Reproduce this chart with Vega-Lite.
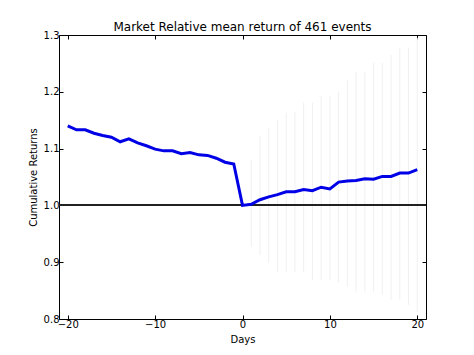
{
  "$schema": "https://vega.github.io/schema/vega-lite/v6.json",
  "width": 367,
  "height": 284,
  "autosize": "none",
  "padding": {"left": 59, "top": 35, "right": 48, "bottom": 36},
  "title": {"text": "Market Relative mean return of 461 events", "font": "DejaVu Sans", "fontSize": 12, "fontWeight": "normal", "color": "black", "offset": -4},
  "config": {
    "view": {"stroke": "black", "strokeWidth": 1},
    "axis": {"domain": false, "grid": false, "tickColor": "black", "tickSize": -4, "labelFont": "DejaVu Sans", "labelFontSize": 10, "labelColor": "black", "titleFont": "DejaVu Sans", "titleFontSize": 10, "titleFontWeight": "normal", "titleColor": "black", "labelPadding": 4}
  },
  "data": {"values": [
    {"day": -20, "ret": 1.140},
    {"day": -19, "ret": 1.133},
    {"day": -18, "ret": 1.133},
    {"day": -17, "ret": 1.127},
    {"day": -16, "ret": 1.123},
    {"day": -15, "ret": 1.120},
    {"day": -14, "ret": 1.112},
    {"day": -13, "ret": 1.117},
    {"day": -12, "ret": 1.110},
    {"day": -11, "ret": 1.105},
    {"day": -10, "ret": 1.099},
    {"day": -9, "ret": 1.096},
    {"day": -8, "ret": 1.096},
    {"day": -7, "ret": 1.091},
    {"day": -6, "ret": 1.093},
    {"day": -5, "ret": 1.089},
    {"day": -4, "ret": 1.088},
    {"day": -3, "ret": 1.083},
    {"day": -2, "ret": 1.076},
    {"day": -1, "ret": 1.073},
    {"day": 0, "ret": 1.000},
    {"day": 1, "ret": 1.002, "lo": 0.927, "hi": 1.080},
    {"day": 2, "ret": 1.010, "lo": 0.913, "hi": 1.123},
    {"day": 3, "ret": 1.015, "lo": 0.899, "hi": 1.137},
    {"day": 4, "ret": 1.019, "lo": 0.883, "hi": 1.151},
    {"day": 5, "ret": 1.024, "lo": 0.883, "hi": 1.163},
    {"day": 6, "ret": 1.024, "lo": 0.883, "hi": 1.165},
    {"day": 7, "ret": 1.028, "lo": 0.883, "hi": 1.181},
    {"day": 8, "ret": 1.026, "lo": 0.869, "hi": 1.181},
    {"day": 9, "ret": 1.032, "lo": 0.869, "hi": 1.193},
    {"day": 10, "ret": 1.029, "lo": 0.869, "hi": 1.193},
    {"day": 11, "ret": 1.041, "lo": 0.864, "hi": 1.200},
    {"day": 12, "ret": 1.043, "lo": 0.857, "hi": 1.221},
    {"day": 13, "ret": 1.044, "lo": 0.848, "hi": 1.235},
    {"day": 14, "ret": 1.047, "lo": 0.848, "hi": 1.235},
    {"day": 15, "ret": 1.046, "lo": 0.848, "hi": 1.251},
    {"day": 16, "ret": 1.051, "lo": 0.843, "hi": 1.251},
    {"day": 17, "ret": 1.051, "lo": 0.834, "hi": 1.265},
    {"day": 18, "ret": 1.057, "lo": 0.834, "hi": 1.278},
    {"day": 19, "ret": 1.057, "lo": 0.825, "hi": 1.278},
    {"day": 20, "ret": 1.063, "lo": 0.813, "hi": 1.295}
  ]},
  "layer": [
    {
      "transform": [{"filter": "isValid(datum.lo)"}],
      "mark": {"type": "rule", "color": "#f0f0f0", "strokeWidth": 1},
      "encoding": {
        "x": {"field": "day", "type": "quantitative", "scale": {"domain": [-21, 21], "nice": false, "zero": false}, "axis": {"orient": "top", "labels": false, "title": null, "values": [-20, -10, 0, 10, 20]}},
        "y": {"field": "lo", "type": "quantitative", "scale": {"domain": [0.8, 1.3], "nice": false, "zero": false}, "axis": {"orient": "right", "labels": false, "title": null, "values": [0.8, 0.9, 1.0, 1.1, 1.2, 1.3]}},
        "y2": {"field": "hi"}
      }
    },
    {
      "mark": {"type": "rule", "color": "#222222", "strokeWidth": 1.2},
      "encoding": {"y": {"datum": 1.0, "type": "quantitative", "axis": null}}
    },
    {
      "mark": {"type": "line", "color": "#0000e6", "strokeWidth": 3, "strokeJoin": "miter"},
      "encoding": {
        "x": {"field": "day", "type": "quantitative", "title": "Days", "axis": {"orient": "bottom", "values": [-20, -10, 0, 10, 20], "labelExpr": "replace(datum.label, '-', '−')", "titlePadding": 5}},
        "y": {"field": "ret", "type": "quantitative", "title": "Cumulative Returns", "axis": {"orient": "left", "values": [0.8, 0.9, 1.0, 1.1, 1.2, 1.3], "format": ".1f", "titlePadding": 5}}
      }
    }
  ],
  "resolve": {"axis": {"x": "independent", "y": "independent"}}
}
